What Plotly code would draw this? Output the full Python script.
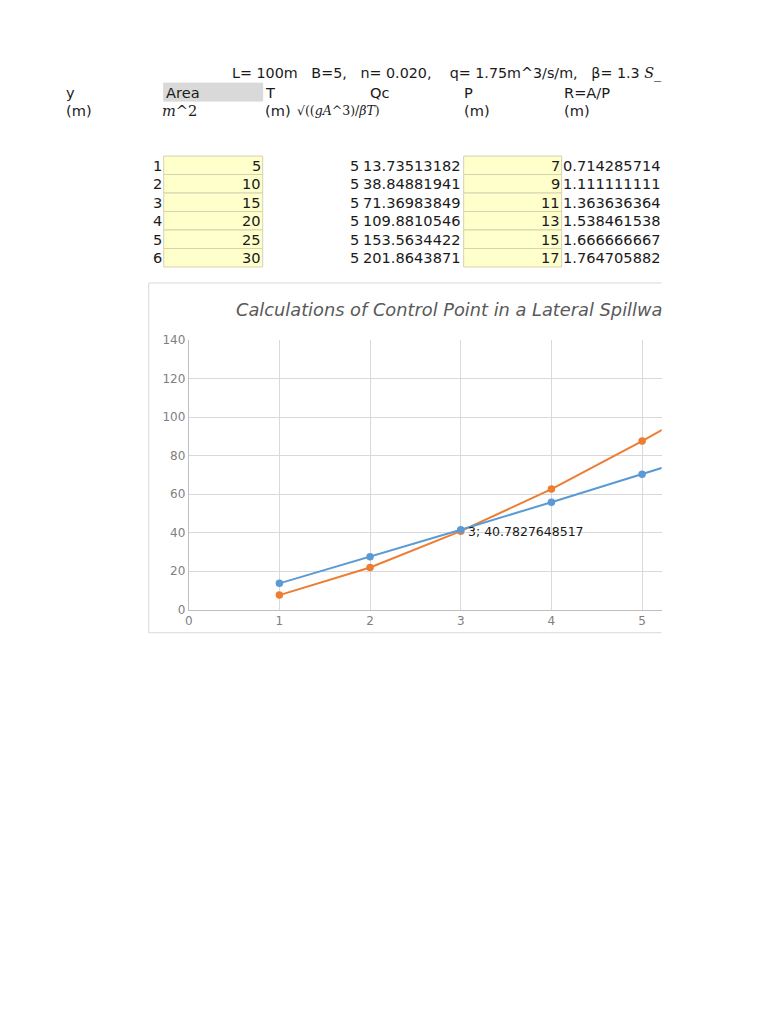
import plotly.graph_objects as go

W, H = 768, 1024
OFF = 8  # margem do body da pagina

# tabela
idx = [1, 2, 3, 4, 5, 6]
area = [5, 10, 15, 20, 25, 30]
T = [5, 5, 5, 5, 5, 5]
Qc = ["13.73513182", "38.84881941", "71.36983849", "109.8810546", "153.5634422", "201.8643871"]
P = [7, 9, 11, 13, 15, 17]
R = ["0.714285714", "1.111111111", "1.363636364", "1.538461538", "1.666666667", "1.764705882"]

# grafico
x_pts = [1, 2, 3, 4, 5, 6]
serie_azul = [13.7, 27.5, 41.5, 55.8, 70.3, 85.0]
serie_laranja = [7.6, 21.9, 40.7827648517, 62.6, 87.5, 114.0]

FONT = "DejaVu Sans"
SERIF = "DejaVu Serif"
FS = 14.6


def px(x):
    x = (x - 4.3) / 0.995  # ajuste fino da captura
    return (x - OFF) / W


def py(y):
    y = (y - 6.95) / 0.987
    return 1 - (y - OFF) / H


fig = go.Figure()
anns = []
shapes = []


def txt(x, y, s, anchor="left", size=FS, color="#1a1a1a", family=FONT):
    anns.append(dict(x=px(x), y=py(y), xref="paper", yref="paper", text=s,
                     showarrow=False, xanchor=anchor, yanchor="middle",
                     borderpad=0, borderwidth=0,
                     font=dict(family=family, size=size, color=color)))


def box(x0, y0, x1, y1, fill, line="#d6d3b0"):
    shapes.append(dict(type="rect", xref="paper", yref="paper",
                       x0=px(x0), x1=px(x1), y0=py(y0), y1=py(y1),
                       fillcolor=fill, line=dict(color=line, width=1), layer="below"))


def linha(x0, y0, x1, y1, cor="#d9d9d9"):
    shapes.append(dict(type="line", xref="paper", yref="paper",
                       x0=px(x0), x1=px(x1), y0=py(y0), y1=py(y1),
                       line=dict(color=cor, width=1), layer="below"))


sp = "\u00a0"
# cabecalho
cab = ("L=" + sp + "100m" + sp * 3 + "B=5," + sp * 3 + "n=" + sp + "0.020," + sp * 4
       + "q=" + sp + "1.75m^3/s/m," + sp * 3 + "β=" + sp + "1.3" + sp
       + "<span style='font-family:DejaVu Serif'><i>S</i>_</span>")
txt(232, 73, cab, size=14.3)
box(164, 83, 263, 101, "#d9d9d9", line="#d9d9d9")
txt(66, 92, "y")
txt(166, 92, "Area")
txt(265, 92, "T")
txt(370, 92, "Qc")
txt(464, 92, "P")
txt(564, 92, "R=A/P")
txt(66, 110, "(m)")
txt(162, 110, "<i>m</i>^2", family=SERIF)
txt(265, 110, "(m)")
txt(297, 110, "√((<i>gA</i>^3)/<i>βT</i>)", family=SERIF, size=12.5)
txt(464, 110, "(m)")
txt(564, 110, "(m)")

# linhas da tabela
row_top = 156
row_h = 18.5
for i in range(len(idx)):
    y0 = row_top + i * row_h
    yc = y0 + row_h / 2
    box(164, y0, 263, y0 + row_h, "#ffffcc")
    box(464, y0, 562, y0 + row_h, "#ffffcc")
    txt(162, yc, str(idx[i]), anchor="right")
    txt(261, yc, str(area[i]), anchor="right")
    txt(359, yc, str(T[i]), anchor="right")
    txt(461, yc, Qc[i], anchor="right")
    txt(560, yc, str(P[i]), anchor="right")
    txt(661, yc, R[i], anchor="right")

# moldura do grafico (cortada na borda da pagina)
linha(149, 283, 662, 283)
linha(149, 283, 149, 633)
linha(149, 633, 662, 633)
txt(236, 310, "<i>Calculations\u00a0of\u00a0Control\u00a0Point\u00a0in\u00a0a\u00a0Lateral\u00a0Spillwa</i>",
    size=17.8, color="#595959")

fig.add_trace(go.Scatter(x=x_pts, y=serie_laranja, mode="lines+markers",
                         line=dict(color="#ed7d31", width=2),
                         marker=dict(color="#ed7d31", size=7.5)))
fig.add_trace(go.Scatter(x=x_pts, y=serie_azul, mode="lines+markers",
                         line=dict(color="#5b9bd5", width=2),
                         marker=dict(color="#5b9bd5", size=7.5)))

# rotulo do ponto
anns.append(dict(x=x_pts[2], y=serie_laranja[2], xref="x", yref="y",
                 text=f"{x_pts[2]}; {serie_laranja[2]}", showarrow=False,
                 xanchor="left", yanchor="middle", xshift=6, borderpad=0,
                 font=dict(family=FONT, size=12.5, color="#1a1a1a")))

x0_px, x1_px = px(189), px(662)
fig.update_xaxes(domain=[x0_px, x1_px], range=[0, (662 - 189) / 90.7], dtick=1,
                 showgrid=True, gridcolor="#d9d9d9", zeroline=False,
                 showline=True, linecolor="#bfbfbf", ticks="",
                 tickfont=dict(family=FONT, size=12, color="#7f7f7f"))
fig.update_yaxes(domain=[py(610), py(340)], range=[0, 140], dtick=20,
                 showgrid=True, gridcolor="#d9d9d9", zeroline=False,
                 showline=True, linecolor="#bfbfbf", ticks="",
                 tickfont=dict(family=FONT, size=12, color="#7f7f7f"))

fig.update_layout(width=W, height=H, margin=dict(l=0, r=0, t=0, b=0),
                  paper_bgcolor="white", plot_bgcolor="rgba(0,0,0,0)",
                  showlegend=False, annotations=anns, shapes=shapes)
fig.write_html("out.html")
